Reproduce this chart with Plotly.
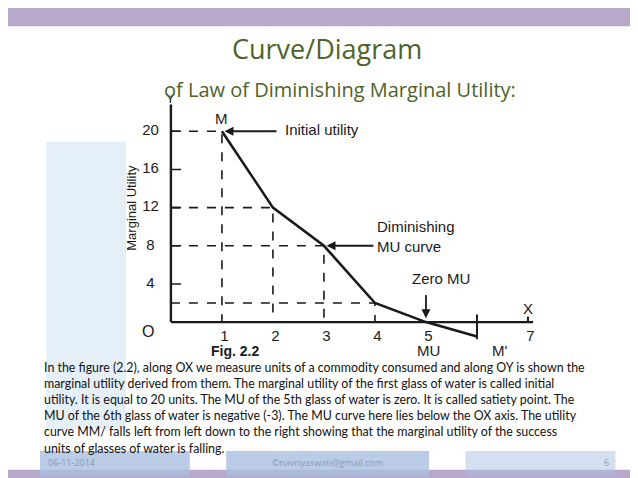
import plotly.graph_objects as go

units = [1, 2, 3, 4, 5, 6]
mu = [20, 12, 8, 2, 0, -1.5]
y_ticks = [4, 8, 12, 16, 20]
x_ticks = [1, 2, 3, 4, 5, 7]
guide_pts = [(1, 20), (2, 12), (3, 8), (4, 2)]

body = ("In the figure (2.2), along OX we measure units of a commodity consumed and along OY is shown the<br>"
        "marginal utility derived from them. The marginal utility of the first glass of water is called initial<br>"
        "utility. It is equal to 20 units. The MU of the 5th glass of water is zero. It is called satiety point. The<br>"
        "MU of the 6th glass of water is negative (-3). The MU curve here lies below the OX axis. The utility<br>"
        "curve MM/ falls left from left down to the right showing that the marginal utility of the success<br>"
        "units of glasses of water is falling.")

ink = '#1a1a1a'
fnt = 'Liberation Sans'
fig = go.Figure()

# dashed guides
for gx, gy in guide_pts:
    fig.add_trace(go.Scatter(x=[0, gx, gx], y=[gy, gy, 0], mode='lines',
                             line=dict(color=ink, width=1.6, dash='dash'), hoverinfo='skip'))
# curve
fig.add_trace(go.Scatter(x=units, y=mu, mode='lines', line=dict(color=ink, width=2.6)))
# tick labels
fig.add_trace(go.Scatter(x=[-0.4] * len(y_ticks), y=y_ticks, text=[str(v) for v in y_ticks],
                         mode='text', textfont=dict(family=fnt, size=15, color=ink)))
fig.add_trace(go.Scatter(x=[v + 0.05 for v in x_ticks], y=[-1.6] * len(x_ticks), text=[str(v) for v in x_ticks],
                         mode='text', textfont=dict(family=fnt, size=15, color=ink)))
# y tick marks
for v in y_ticks:
    fig.add_trace(go.Scatter(x=[0, 0.2], y=[v, v], mode='lines', line=dict(color=ink, width=1.6)))

fig.update_xaxes(range=[-0.88, 7.2], domain=[0.185, 0.831], visible=False)
fig.update_yaxes(range=[-3.65, 23.9], domain=[0.27, 0.82], visible=False)

shapes = [
    dict(type='rect', xref='paper', yref='paper', x0=0, x1=1, y0=0.962, y1=1, fillcolor='#b8a8cc', line_width=0, layer='below'),
    dict(type='rect', xref='paper', yref='paper', x0=0, x1=1, y0=0, y1=0.034, fillcolor='#b8a8cc', line_width=0, layer='below'),
    dict(type='rect', xref='paper', yref='paper', x0=0.06, x1=0.185, y0=0.12, y1=0.72, fillcolor='#d3e5f2', opacity=0.6, line_width=0, layer='below'),
    dict(type='rect', xref='paper', yref='paper', x0=0.05, x1=0.285, y0=0.02, y1=0.073, fillcolor='#a9bfe0', opacity=0.8, line_width=0, layer='below'),
    dict(type='rect', xref='paper', yref='paper', x0=0.342, x1=0.66, y0=0.02, y1=0.073, fillcolor='#a9bfe0', opacity=0.8, line_width=0, layer='below'),
    dict(type='rect', xref='paper', yref='paper', x0=0.717, x1=0.952, y0=0.02, y1=0.073, fillcolor='#a9bfe0', opacity=0.5, line_width=0, layer='below'),
    # axes
    dict(type='line', x0=0, x1=7.1, y0=0, y1=0, line=dict(color=ink, width=2.4)),
    dict(type='line', x0=0, x1=0, y0=0, y1=22.8, line=dict(color=ink, width=2.4)),
    dict(type='line', x0=6, x1=6, y0=-1.8, y1=0.8, line=dict(color=ink, width=2)),
    dict(type='line', x0=7, x1=7, y0=0, y1=0.6, line=dict(color=ink, width=2)),
]

def ann(x, y, t, size=15, **kw):
    d = dict(x=x, y=y, text=t, showarrow=False, font=dict(family=fnt, size=size, color=ink))
    d.update(kw)
    return d

def pann(x, y, t, size, color, family='Open Sans', **kw):
    d = dict(x=x, y=y, xref='paper', yref='paper', yanchor='middle', text=t, showarrow=False,
             font=dict(family=family, size=size, color=color))
    d.update(kw)
    return d

anns = [
    ann(1.0, 21.3, 'M'), ann(-0.45, -1.0, 'O', size=16), ann(7.0, 1.4, 'X'), ann(0.0, 23.4, 'Y', size=13),
    ann(1.25, -3.0, '<b>Fig. 2.2</b>', size=14), ann(5.05, -3.0, 'MU'), ann(6.45, -3.0, "M'"),
    ann(-0.78, 12, 'Marginal Utility', size=13, textangle=-90),
    dict(x=1.05, y=20, ax=2.1, ay=20, axref='x', ayref='y', showarrow=True, arrowhead=2, arrowwidth=1.8, arrowcolor=ink, text=''),
    ann(2.2, 20.2, 'Initial utility', xanchor='left'),
    dict(x=3.05, y=8, ax=4.0, ay=8, axref='x', ayref='y', showarrow=True, arrowhead=2, arrowwidth=1.8, arrowcolor=ink, text=''),
    ann(4.0, 9.0, 'Diminishing<br>MU curve', xanchor='left', align='left'),
    dict(x=5.0, y=0.4, ax=5.0, ay=3.0, axref='x', ayref='y', showarrow=True, arrowhead=2, arrowwidth=1.8, arrowcolor=ink, text=''),
    ann(5.3, 4.6, 'Zero MU'),
    pann(0.5, 0.915, 'Curve/Diagram', 27, '#4f6228'),
    pann(0.52, 0.83, 'of Law of Diminishing Marginal Utility:', 20, '#4f6228'),
    dict(x=0.053, y=0.058, xref='paper', yref='paper', xanchor='left', yanchor='bottom', text=body, showarrow=False,
         align='left', font=dict(family='Lato', size=12.4, color='#111111')),
    pann(0.06, 0.05, '06-11-2014', 9, '#8899bb', xanchor='left'),
    pann(0.5, 0.05, '©navriyaswati@gmail.com', 9, '#8899bb'),
    pann(0.945, 0.05, '6', 9, '#8899bb', xanchor='right'),
]

fig.update_layout(width=638, height=478, margin=dict(l=0, r=0, t=0, b=0), showlegend=False,
                  paper_bgcolor='white', plot_bgcolor='white', shapes=shapes, annotations=anns)
fig.write_html("out.html")
